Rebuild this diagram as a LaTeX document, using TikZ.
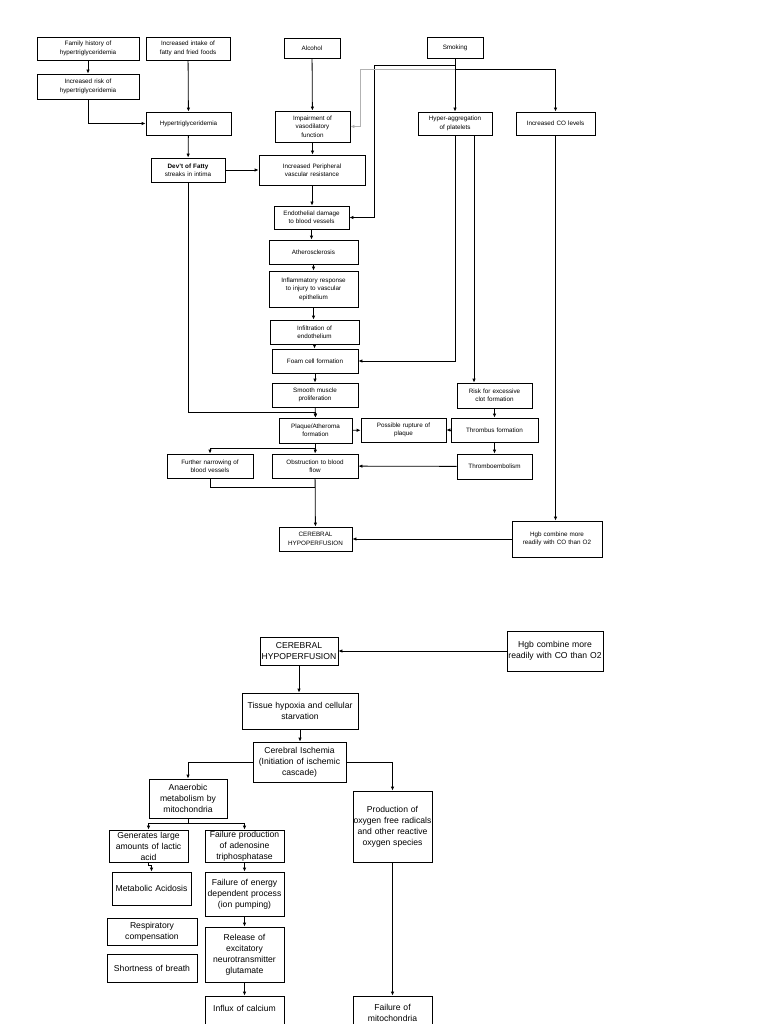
\documentclass[tikz,border=0pt]{standalone}
\usepackage{fontspec}
\setmainfont{Liberation Sans}
\usetikzlibrary{arrows.meta}
\begin{document}
\begin{tikzpicture}[x=1pt,y=-1pt,
  bx/.style 2 args={draw, line width=0.8pt, minimum width=#1pt, minimum height=#2pt, text width=#1pt, inner xsep=0pt, inner ysep=1pt, align=center, font=\fontsize{6.3}{8.4}\selectfont},
  bb/.style 2 args={bx={#1}{#2}, font=\fontsize{8.6}{11}\selectfont},
  arr/.style={line width=0.8pt, -{Latex[length=4pt,width=3.5pt]}},
  ln/.style={line width=0.8pt}]
\useasboundingbox (0,0) rectangle (768,1024);
\clip (0,0) rectangle (768,1024);
\fill[white] (0,0) rectangle (768,1024);
% top section
\node[bx={102}{23}] (fam) at (88,48.5) {Family history of\\hypertriglyceridemia};
\node[bx={102}{25}] (risk) at (88,86.5) {Increased risk of\\hypertriglyceridemia};
\node[bx={84}{23}] (intake) at (188,48.5) {Increased intake of\\fatty and fried foods};
\node[bx={56}{20}] (alc) at (312,48) {Alcohol};
\node[bx={56}{21}] (smk) at (455,48) {Smoking};
\node[bx={74}{23}] (hagg) at (455,123.5) {Hyper-aggregation\\of platelets};
\node[bx={79}{23}] (co) at (555.5,123.5) {Increased CO levels};
\node[bx={85}{23}] (htg) at (188.5,123.5) {Hypertriglyceridemia};
\node[bx={75}{31}] (imp) at (312.5,126.5) {Impairment of\\vasodilatory\\function};
\node[bx={74}{24}] (dev) at (188,170) {\textbf{Dev't of Fatty}\\streaks in intima};
\node[bx={106}{30}] (pvr) at (312,170) {Increased Peripheral\\vascular resistance};
\node[bx={75}{23}] (endo) at (311.5,217.5) {Endothelial damage\\to blood vessels};
\node[bx={89}{24}] (ath) at (313.5,252) {Atherosclerosis};
\node[bx={89}{36}] (inf) at (313.5,289) {Inflammatory response\\to injury to vascular\\epithelium};
\node[bx={89}{24}] (infl) at (314.5,332) {Infiltration of\\endothelium};
\node[bx={86}{24}] (foam) at (315,361) {Foam cell formation};
\node[bx={86}{24}] (smooth) at (315,395) {Smooth muscle\\proliferation};
\node[bx={73}{25}] (plaque) at (315.5,430.5) {Plaque/Atheroma\\formation};
\node[bx={85}{24}] (rupt) at (403.5,430) {Possible rupture of\\plaque};
\node[bx={87}{24}] (thr) at (494.5,430) {Thrombus formation};
\node[bx={75}{25}] (riskc) at (494.5,395.5) {Risk for excessive\\clot formation};
\node[bx={86}{24}] (fnar) at (210,466) {Further narrowing of\\blood vessels};
\node[bx={86}{24}] (obs) at (315,466) {Obstruction to blood\\flow};
\node[bx={75}{25}] (temb) at (494.5,466.5) {Thromboembolism};
\node[bx={73}{24}] (cer1) at (315.5,539) {CEREBRAL\\HYPOPERFUSION};
\node[bx={90}{36}] (hgb1) at (557,539) {Hgb combine more\\readily with CO than O2};
% top connectors
\draw[arr] (fam) -- (risk);
\draw[arr] (risk.south) |- (htg.west);
\draw[arr] (intake) -- (htg);
\draw[arr] (htg) -- (dev);
\draw[arr] (dev) -- (pvr);
\draw[arr] (alc) -- (imp);
\draw[arr] (imp.south) -- (imp.south |- pvr.north);
\draw[arr] (pvr.south) -- (pvr.south |- endo.north);
\draw[arr] (endo.south) -- (endo.south |- ath.north);
\draw[arr] (ath) -- (ath |- inf.north);
\draw[arr] (inf) -- (inf |- infl.north);
\draw[arr] (infl) -- (infl |- foam.north);
\draw[arr] (foam) -- (smooth);
\draw[arr] (smooth) -- (plaque);
\draw[arr] (smk) -- (hagg);
\coordinate (s1) at (455,65);
\coordinate (s2) at (455,69);
\draw[arr] (s1) -- (374,65) |- (endo.east);
\draw[arr, gray!60] (s2) -- (360,69) |- (imp.east);
\draw[arr] (s2) -| (co.north);
\draw[arr] (hagg.south) |- (foam.east);
\draw[arr] ([xshift=19pt]hagg.south) -- ([xshift=-20.5pt]riskc.north);
\draw[arr] (co.south) -- (co.south |- hgb1.north);
\draw[arr] (dev.south) -- ++(0,230) -| (plaque.north);
\draw[arr] (plaque) -- (rupt);
\draw[arr] (thr) -- (rupt);
\draw[arr] (riskc) -- (thr);
\draw[arr] (thr) -- (temb);
\draw[ln] (plaque.south) -- ++(0,5) coordinate (p1);
\draw[arr] (p1) -| (fnar.north);
\draw[arr] (p1) -- (obs.north);
\draw[arr] (temb) -- (obs);
\draw[ln] (fnar.south) |- (obs.south |- 0,487);
\draw[arr] (obs) -- (cer1);
\draw[arr] (hgb1) -- (cer1);
% lower section
\node[bb={78}{28}] (cer2) at (299,651) {CEREBRAL\\HYPOPERFUSION};
\node[bb={96}{40}] (hgb2) at (555,651) {Hgb combine more\\readily with CO than O2};
\node[bb={116}{36}] (tis) at (300,711) {Tissue hypoxia and cellular\\starvation};
\node[bb={93}{40}] (isc) at (299.5,762) {Cerebral Ischemia\\(Initiation of ischemic\\cascade)};
\node[bb={78}{39}] (ana) at (188,798.5) {Anaerobic\\metabolism by\\mitochondria};
\node[bb={79}{71}] (prod) at (392.5,826.5) {Production of\\oxygen free radicals\\and other reactive\\oxygen species\\[12pt]};
\node[bb={79}{32}] (gen) at (148.5,846) {Generates large\\amounts of lactic\\acid};
\node[bb={79}{32}] (fprod) at (244.5,846) {Failure production\\of adenosine\\triphosphatase};
\node[bb={79}{33}] (meta) at (151.5,888.5) {Metabolic Acidosis};
\node[bb={79}{44}] (fen) at (244.5,894) {Failure of energy\\dependent process\\(ion pumping)};
\node[bb={90}{27}] (resp) at (152,931.5) {Respiratory\\compensation};
\node[bb={90}{28}] (sob) at (152,968) {Shortness of breath};
\node[bb={79}{55}] (rel) at (244.5,954.5) {Release of\\excitatory\\neurotransmitter\\glutamate};
\node[bb={79}{34}, text depth=9pt] (influx) at (244.5,1013) {Influx of calcium};
\node[bb={79}{34}] (fmito) at (392.5,1013) {Failure of\\mitochondria};
\draw[arr] (hgb2) -- (cer2);
\draw[arr] (cer2) -- (cer2 |- tis.north);
\draw[arr] (tis) -- (tis |- isc.north);
\draw[arr] (isc.west) -| (ana.north);
\draw[arr] (isc.east) -| (prod.north);
\draw[ln] (ana.south) -- ++(0,5) coordinate (a1);
\draw[arr] (a1) -| (gen.north);
\draw[arr] (a1) -| (fprod.north);
\draw[arr] (gen.south) -- ++(0,3) -| (meta.north);
\draw[arr] (fprod) -- (fen);
\draw[arr] (fen) -- (rel);
\draw[arr] (rel) -- (influx.north);
\draw[arr] (prod) -- (fmito);
\end{tikzpicture}
\end{document}
